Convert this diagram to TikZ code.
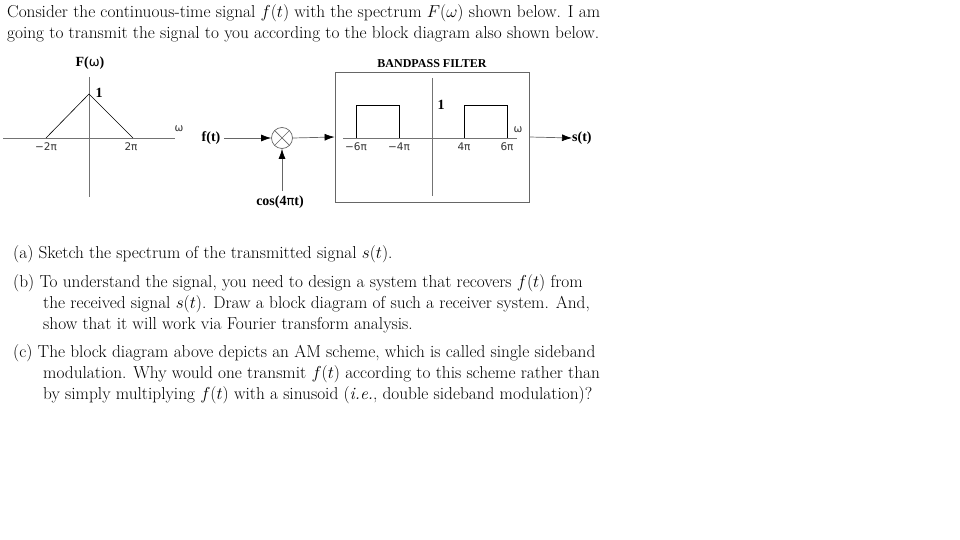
\documentclass[tikz,border=0pt]{standalone}
\usepackage{fontspec}
\newfontfamily\lab{Liberation Serif}
\newfontfamily\labs{DejaVu Sans}
\usetikzlibrary{arrows.meta}
\tikzset{
  ax/.style={draw=black!55, line width=0.8pt},
  ln/.style={draw=black, line width=0.6pt},
  arr/.style={draw=black!60, line width=0.7pt, -{Latex[length=10pt,width=7pt,black]}},
  bl/.style={font=\lab\bfseries\fontsize{14}{14}\selectfont, inner sep=0pt},
  tk/.style={font=\labs\fontsize{10.5}{10.5}\selectfont, inner sep=0pt, text=black!80},
  body/.style={anchor=west, inner sep=0pt, font=\rmfamily\fontsize{17.3}{20}\selectfont}
}
\begin{document}
\begin{tikzpicture}[x=1pt,y=-1pt]
\useasboundingbox (0,0) rectangle (960,540);
% text
\node[body] (l1) at (7,13) {Consider the continuous-time signal $f(t)$ with the spectrum $F(\omega)$ shown below. I am};
\node[body] (l2) at (7,34) {going to transmit the signal to you according to the block diagram also shown below.};
\node[body] (a1) at (13,254) {(a)\ Sketch the spectrum of the transmitted signal $s(t)$.};
\node[body] (b1) at (13,283) {(b)\ To understand the signal, you need to design a system that recovers $f(t)$ from};
\node[body] (b2) at (43,304) {the received signal $s(t)$. Draw a block diagram of such a receiver system. And,};
\node[body] (b3) at (43,325) {show that it will work via Fourier transform analysis.};
\node[body] (c1) at (13,353) {(c)\ The block diagram above depicts an AM scheme, which is called single sideband};
\node[body] (c2) at (43,374) {modulation. Why would one transmit $f(t)$ according to this scheme rather than};
\node[body] (c3) at (43,395) {by simply multiplying $f(t)$ with a sinusoid (\textit{i.e.}, double sideband modulation)?};
% left spectrum
\draw[ax] (3,138) -- (175,138);
\draw[ax] (89,77) -- (89,197);
\draw[ln] (46,138) -- (89,94) -- (133,138);
\node[bl] (Fw) at (90,63) {F({\labs\mdseries\fontsize{13}{13}\selectfont ω})};
\node[bl] (one1) at (99,93) {1};
\node[tk] (m2p) at (46,147) {−2π};
\node[tk] (p2p) at (131,147) {2π};
\node[tk] (w1) at (179,129) {ω};
% modulator
\node[bl] (ft) at (211,138) {f(t)};
\node[draw=black!60, circle, minimum size=21pt, inner sep=0pt, line width=0.7pt] (mix) at (282,138) {};
\draw[black!60, line width=0.7pt] (mix.north west) -- (mix.south east) (mix.north east) -- (mix.south west);
\node[bl] (cos) at (280,202) {cos(4{\labs\mdseries\fontsize{13}{13}\selectfont π}t)};
\coordinate (cosT) at (282,191);
\draw[arr] (224,138) -- (mix.west);
\draw[arr] (cosT) -- (mix.south);
% filter
\node[draw=black!60, line width=0.8pt, minimum width=194pt, minimum height=130pt, inner sep=0pt] (bp) at (432,137) {};
\node[bl, font=\lab\bfseries\fontsize{12}{12}\selectfont] (bpl) at (432,64) {BANDPASS FILTER};
\draw[arr] (mix.east) -- (bp.west);
\draw[ax] (343,138) -- (517,138);
\draw[ax] (432,78) -- (432,196);
\draw[ln] (356,138) -- (356,105) -- (399,105) -- (399,138);
\draw[ln] (464,138) -- (464,105) -- (507,105) -- (507,138);
\node[bl] (one2) at (441,105) {1};
\node[tk] (m6) at (356,147) {−6π};
\node[tk] (m4) at (399,147) {−4π};
\node[tk] (p4) at (464,147) {4π};
\node[tk] (p6) at (507,147) {6π};
\node[tk] (w2) at (518,130) {ω};
\node[bl, anchor=west] (st) at (572,138) {s(t)};
\draw[arr] (bp.east) -- (st.west);
\end{tikzpicture}
\end{document}
